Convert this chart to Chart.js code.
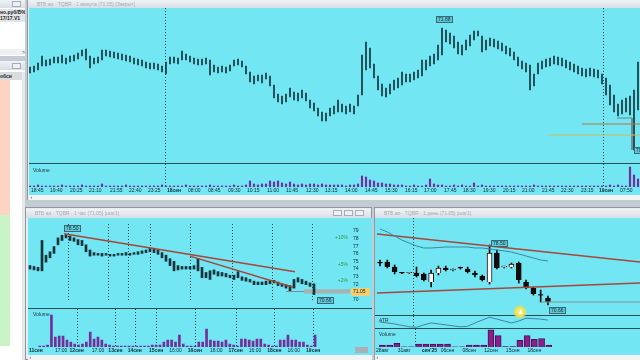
<!DOCTYPE html>
<html>
<head>
<meta charset="utf-8">
<script src="https://cdn.jsdelivr.net/npm/chart.js@4"></script>
<style>
html, body { margin: 0; padding: 0; }
body { width: 640px; height: 360px; overflow: hidden; position: relative; background: #c3cbd3; font-family: "Liberation Sans", sans-serif; }
.a { position: absolute; }
canvas { position: absolute; display: block; background: #72e6f3; }
.tb { position: absolute; background: linear-gradient(#f0f3f6, #d8dee5); color: #a3abb3; font-size: 5px; line-height: 9px; white-space: nowrap; overflow: hidden; }
.sep { position: absolute; height: 1px; background: #2a4d56; }
.lbl { position: absolute; font-size: 5px; color: #1c3038; line-height: 6px; }
.btn { position: absolute; width: 9px; height: 6px; border: 1px solid #a4adb6; box-sizing: border-box; background: #eef1f4; }
</style>
</head>
<body>

<!-- левая панель -->
<div class="a" style="left:0;top:0;width:25px;height:56px;background:#fff"></div>
<div class="tb" style="left:0;top:0;width:25px;height:8px"></div>
<div class="btn" style="left:12px;top:1px"></div>
<div class="a" style="left:0;top:9px;width:25px;height:13px;background:#e3e6e9;font:bold 5px 'Liberation Sans';color:#222;line-height:6px;white-space:nowrap;overflow:hidden">но.руб/Б%<br>17/17.V1</div>
<div class="a" style="left:0;top:49px;width:25px;height:6px;background:#eef0f2;font-size:5px;line-height:6px;text-align:right;color:#444">&gt;</div>
<div class="a" style="left:0;top:61px;width:25px;height:299px;background:#fff"></div>
<div class="tb" style="left:0;top:61px;width:25px;height:9px"></div>
<div class="btn" style="left:12px;top:63px"></div>
<div class="a" style="left:0;top:72px;width:22px;height:8px;background:#d9dcdf;font:bold 5px 'Liberation Sans';color:#222;line-height:8px;overflow:hidden">обси</div>
<div class="a" style="left:0;top:80px;width:10px;height:135px;background:#fdd4c4"></div>
<div class="a" style="left:0;top:215px;width:10px;height:131px;background:#c8f4c8"></div>
<div class="a" style="left:22px;top:72px;width:3px;height:288px;background:#e6e8ea"></div>

<!-- верхнее окно: 1 минута -->
<div class="a" style="left:27px;top:0;width:613px;height:200px;background:#e8ecef;border-left:1px solid #8e98a2"></div>
<div class="tb" style="left:28px;top:0;width:612px;height:8px;line-height:8px;padding-left:9px;box-sizing:border-box">ВТБ ао · TQBR · 1 минута (71.05) [Закрыт]</div>
<canvas id="m1p" width="611" height="155" style="left:29px;top:8px"></canvas>
<div class="sep" style="left:29px;top:163px;width:611px"></div>
<canvas id="m1v" width="611" height="31" style="left:29px;top:164px"></canvas>
<div class="lbl" style="left:33px;top:167px">Volume</div>
<div class="a" style="left:29px;top:195px;width:611px;height:5px;background:#f2f4f5;font-size:5px;line-height:5px;color:#444">&nbsp;‹</div>

<!-- нижнее левое окно: 1 час -->
<div class="a" style="left:25px;top:207px;width:347px;height:153px;background:#e8ecef;border:1px solid #8e98a2;box-sizing:border-box"></div>
<div class="tb" style="left:26px;top:209px;width:345px;height:9px;padding-left:9px;box-sizing:border-box">ВТБ ао · TQBR · 1 час (71.05) [шаг1]</div>
<div class="btn" style="left:333px;top:210px"></div>
<div class="btn" style="left:344px;top:210px"></div>
<div class="btn" style="left:355px;top:210px"></div>
<canvas id="h1p" width="344" height="90" style="left:28px;top:218px"></canvas>
<div class="sep" style="left:28px;top:308px;width:344px"></div>
<canvas id="h1v" width="344" height="46" style="left:28px;top:309px"></canvas>
<div class="lbl" style="left:33px;top:311px">Volume</div>
<div class="a" style="left:355px;top:347px;width:13px;height:6px;background:#a9b1b6"></div>
<div class="a" style="left:28px;top:355px;width:344px;height:5px;background:#f2f4f5;font-size:5px;line-height:5px;color:#444">&nbsp;‹</div>

<!-- нижнее правое окно: 1 день -->
<div class="a" style="left:374px;top:207px;width:266px;height:153px;background:#e8ecef;border-left:1px solid #8e98a2;border-top:1px solid #8e98a2"></div>
<div class="tb" style="left:375px;top:209px;width:265px;height:9px;padding-left:9px;box-sizing:border-box">ВТБ ао · TQBR · 1 день (71.05) [шаг1]</div>
<canvas id="d1p" width="265" height="97" style="left:375px;top:218px"></canvas>
<div class="sep" style="left:375px;top:315px;width:265px"></div>
<canvas id="d1a" width="265" height="12" style="left:375px;top:316px"></canvas>
<div class="sep" style="left:375px;top:328px;width:265px"></div>
<canvas id="d1v" width="265" height="26" style="left:375px;top:329px"></canvas>
<div class="lbl" style="left:379px;top:317px">ATR</div>
<div class="lbl" style="left:379px;top:331px">Volume</div>
<div class="a" style="left:375px;top:355px;width:265px;height:5px;background:#f2f4f5;font-size:5px;line-height:5px;color:#444">&nbsp;‹</div>

<!-- подсветка курсора -->
<div class="a" style="left:513px;top:305px;width:14px;height:14px;border-radius:50%;background:radial-gradient(#fff59a 0%, #f3e04a 45%, rgba(243,224,74,0) 75%)"></div>
<div class="a" style="left:519px;top:309px;width:0;height:0;border-left:2px solid transparent;border-right:2px solid transparent;border-bottom:5px solid #fff"></div>

<script>
// ---- 1 минута: максимумы/минимумы свечей, объём ----
const m1High = [
  71.49, 71.50, 71.53, 71.60, 71.56, 71.57, 71.59, 71.59, 71.61, 71.58,
  71.60, 71.61, 71.63, 71.66, 71.67, 71.60, 71.58, 71.59, 71.66, 71.66,
  71.65, 71.64, 71.63, 71.62, 71.61, 71.60, 71.58, 71.57, 71.56, 71.54,
  71.53, 71.53, 71.52, 71.50, 71.54, 71.59, 71.59, 71.58, 71.65, 71.62,
  71.60, 71.58, 71.57, 71.57, 71.58, 71.56, 71.51, 71.49, 71.50, 71.49,
  71.51, 71.56, 71.57, 71.55, 71.50, 71.44, 71.40, 71.41, 71.41, 71.43,
  71.40, 71.31, 71.22, 71.20, 71.22, 71.28, 71.24, 71.23, 71.26, 71.23,
  71.16, 71.13, 71.08, 71.04, 71.03, 71.08, 71.10, 71.16, 71.12, 71.10,
  71.12, 71.10, 71.21, 71.61, 71.74, 71.68, 71.52, 71.40, 71.32, 71.28,
  71.32, 71.36, 71.38, 71.44, 71.42, 71.42, 71.44, 71.46, 71.56, 71.56,
  71.60, 71.62, 71.71, 71.88, 71.86, 71.83, 71.80, 71.74, 71.71, 71.76,
  71.81, 71.85, 71.85, 71.80, 71.76, 71.78, 71.77, 71.75, 71.73, 71.70,
  71.68, 71.64, 71.59, 71.55, 71.53, 71.51, 71.42, 71.53, 71.55, 71.57,
  71.58, 71.60, 71.59, 71.58, 71.56, 71.54, 71.52, 71.50, 71.48, 71.47,
  71.48, 71.47, 71.46, 71.42, 71.38, 71.31, 71.21, 71.12, 71.16, 71.18,
  71.20, 71.26, 71.54
];
const m1Low = [
  71.43, 71.44, 71.46, 71.50, 71.50, 71.51, 71.53, 71.53, 71.53, 71.52,
  71.54, 71.55, 71.57, 71.60, 71.56, 71.48, 71.52, 71.53, 71.56, 71.60,
  71.59, 71.58, 71.57, 71.56, 71.55, 71.54, 71.52, 71.51, 71.50, 71.48,
  71.47, 71.47, 71.46, 71.44, 71.42, 71.52, 71.53, 71.52, 71.56, 71.56,
  71.54, 71.52, 71.51, 71.51, 71.52, 71.41, 71.44, 71.43, 71.44, 71.43,
  71.45, 71.50, 71.51, 71.49, 71.42, 71.34, 71.32, 71.35, 71.33, 71.37,
  71.30, 71.18, 71.14, 71.12, 71.14, 71.19, 71.16, 71.15, 71.18, 71.15,
  71.08, 71.05, 71.00, 70.95, 70.95, 71.00, 71.02, 71.04, 71.04, 71.02,
  71.04, 71.02, 71.10, 71.21, 71.46, 71.48, 71.38, 71.26, 71.20, 71.19,
  71.22, 71.26, 71.28, 71.31, 71.34, 71.34, 71.36, 71.38, 71.40, 71.46,
  71.50, 71.52, 71.56, 71.61, 71.74, 71.72, 71.68, 71.62, 71.61, 71.66,
  71.70, 71.76, 71.80, 71.64, 71.66, 71.70, 71.69, 71.67, 71.65, 71.62,
  71.60, 71.56, 71.50, 71.47, 71.44, 71.26, 71.30, 71.42, 71.47, 71.49,
  71.50, 71.52, 71.51, 71.50, 71.48, 71.46, 71.44, 71.42, 71.40, 71.39,
  71.40, 71.39, 71.38, 71.32, 71.21, 71.11, 71.04, 71.00, 71.02, 71.04,
  71.01, 70.66, 71.06
];
const m1Vol = [
  1, 1, 2, 1, 1, 1, 1, 1, 2, 1,
  1, 1, 1, 2, 1, 1, 1, 1, 3, 1,
  1, 1, 1, 1, 2, 1, 1, 1, 1, 1,
  1, 1, 1, 2, 1, 1, 1, 1, 1, 2,
  1, 1, 1, 1, 1, 2, 1, 1, 1, 1,
  1, 2, 1, 1, 2, 6, 3, 2, 3, 3,
  6, 5, 6, 4, 3, 5, 3, 2, 3, 2,
  3, 3, 2, 3, 2, 2, 2, 2, 2, 1,
  2, 2, 3, 11, 10, 7, 6, 4, 4, 3,
  3, 2, 2, 2, 1, 1, 2, 1, 1, 2,
  8, 3, 2, 2, 1, 1, 2, 1, 2, 1,
  1, 4, 1, 2, 1, 1, 1, 1, 1, 1,
  1, 1, 1, 1, 1, 1, 2, 1, 1, 1,
  1, 1, 1, 1, 1, 1, 1, 1, 1, 1,
  1, 1, 1, 1, 1, 2, 1, 2, 1, 1,
  20, 12, 8
];
const m1Ticks = ['18:45', '19:40', '20:25', '21:10', '21:55', '22:40', '23:25', '18сен', '08:00', '08:45', '09:30',
  '10:15', '11:00', '11:45', '12:30', '13:15', '14:00', '14:45', '15:30', '16:15', '17:00', '17:45', '18:30',
  '19:30', '20:15', '21:00', '21:45', '22:30', '23:15', '19сен', '07:50'];
const m1TickAt = [0.25, 5, 10, 14.75, 20, 24.75, 29.5, 34.25, 39.5, 44.5, 49.5, 54.25, 59.25, 64, 69, 73.75,
  78.75, 83.75, 88.75, 93.75, 98.5, 103.5, 108.25, 113.25, 118.25, 123, 128, 132.75, 137.75, 142.25, 147.5];
const m1DayAt = [33.75, 143.25];
// уровни, нарисованные на минутном графике: [от свечи, цена]
const m1Levels = [[138, 70.92], [129.5, 70.81]];

// ---- 1 час ----
const h1High = [
  74.45, 74.34, 74.23, 77.75, 75.82, 76.27, 76.95, 78.09, 78.43, 78.50,
  78.32, 78.09, 77.86, 77.75, 77.18, 76.50, 76.16, 76.05, 76.05, 76.05,
  75.93, 75.93, 76.05, 76.05, 76.16, 76.05, 76.16, 76.27, 76.39, 76.50,
  76.73, 76.61, 76.50, 76.16, 75.82, 75.36, 75.02, 74.45, 74.34, 74.34,
  74.34, 74.45, 75.36, 74.23, 73.55, 73.77, 73.89, 73.66, 73.55, 73.43,
  73.20, 73.20, 73.66, 72.98, 72.86, 72.64, 72.41, 72.30, 72.30, 72.41,
  72.52, 72.52, 72.30, 72.07, 71.95, 71.84, 72.64, 72.86, 72.64, 72.41,
  72.18, 72.07
];
const h1Low = [
  74.00, 73.89, 73.77, 73.77, 74.91, 75.48, 76.05, 77.18, 77.75, 78.09,
  77.75, 77.64, 77.18, 77.07, 76.27, 75.70, 75.82, 75.82, 75.70, 75.82,
  75.70, 75.70, 75.82, 75.82, 75.82, 75.82, 75.93, 75.93, 76.05, 76.16,
  76.27, 76.16, 75.93, 75.48, 75.02, 74.45, 73.77, 73.89, 74.00, 74.00,
  74.00, 74.00, 73.77, 72.86, 72.86, 72.64, 73.32, 73.09, 73.09, 72.98,
  72.86, 72.64, 72.86, 72.52, 72.41, 72.30, 71.95, 71.95, 71.95, 71.95,
  72.07, 72.18, 71.84, 71.73, 71.50, 71.16, 71.50, 72.30, 72.07, 71.95,
  71.73, 70.66
];
const h1Vol = [
  1, 1, 2, 32, 10, 11, 11, 7, 5, 3,
  2, 3, 5, 15, 8, 10, 7, 3, 2, 1,
  1, 1, 1, 1, 1, 1, 1, 1, 1, 2,
  2, 2, 5, 7, 7, 5, 12, 3, 1, 1,
  1, 5, 5, 18, 7, 6, 6, 5, 7, 3,
  2, 1, 8, 8, 7, 6, 8, 8, 3, 2,
  1, 1, 7, 7, 12, 7, 7, 5, 5, 2,
  1, 12
];
const h1Ticks = ['11сен', '17:00', '12сен', '17:00', '13сен', '14сен', '15сен', '16:00', '16сен', '16:00',
  '17сен', '16:00', '18сен', '16:00', '19сен'];
const h1TickAt = [-1, 5.5, 9.5, 15, 19.5, 24.5, 30, 35, 40, 45.5, 50.5, 55.5, 60.5, 65.5, 70.5];
// трендовые линии: [свеча, цена] -> [свеча, цена]
const h1TrendA = [[8.5, 78.62], [66.25, 73.66]];
const h1TrendB = [[40, 75.70], [65.75, 71.61]];
const lastPrice = 71.05;
const pctLevels = [10, 5, 2];

// ---- 1 день ----
const d1Open  = [76.15, 76.28, 75.62, 74.84, 74.80, 74.84, 74.71, 73.66, 74.84, 75.49, 75.20, 75.49,
                 75.36, 74.84, 74.45, 73.66, 77.45, 75.60, 75.62, 76.15, 73.66, 72.88, 71.96, 71.57];
const d1Close = [76.10, 75.62, 74.97, 74.80, 74.84, 74.45, 73.92, 74.84, 75.49, 75.23, 75.23, 75.45,
                 74.97, 74.58, 73.92, 77.45, 75.49, 75.62, 76.02, 73.92, 72.88, 72.09, 71.90, 71.05];
const d1High  = [76.54, 76.54, 75.89, 74.90, 74.90, 75.62, 74.84, 75.23, 75.75, 75.75, 75.40, 75.62,
                 75.62, 75.10, 74.58, 78.50, 77.85, 75.75, 76.15, 76.28, 73.92, 73.01, 72.62, 71.83];
const d1Low   = [75.75, 75.49, 74.71, 74.75, 74.75, 74.32, 73.79, 73.01, 74.58, 75.10, 75.10, 75.36,
                 74.84, 74.32, 73.79, 73.40, 75.36, 75.49, 75.49, 73.53, 72.75, 71.96, 71.05, 70.66];
const d1Ma    = [80.59, 80.20, 79.68, 79.15, 78.76, 78.37, 78.11, 78.11, 78.17, 78.24, 78.24, 78.24,
                 78.24, 78.11, 78.11, 77.98, 77.85, 77.72, 77.58, 77.32, 77.06, 76.80, 76.54, 76.41];
const d1Atr   = [1.48, 1.40, 1.32, 1.20, 1.08, 1.04, 1.24, 1.40, 1.32, 1.24, 1.16, 1.08,
                 1.12, 1.40, 1.64, 1.88, 1.72, 1.56, 1.40, 1.56, 1.80, 1.76, 1.72, 1.64];
const d1Vol   = [2, 2, 4, 0.3, 0.3, 3, 3, 3, 3, 3, 0.3, 0.3, 2, 2, 2, 18, 12, 0.5, 0.5, 7, 12, 8, 9, 2];
const d1Ticks = ['28авг', '31авг', "сен'25", '06сен', '08сен', '12сен', '15сен', '18сен'];
const d1TickAt = [0, 3, 6.5, 9, 12, 15, 18, 21];
const d1MonthAt = [4.5];
const d1TrendUp = [[-0.41, 79.94], [35.6, 76.28]];
const d1TrendDn = [[-0.41, 72.23], [35.6, 73.53]];

// ---------------------------------------------------------------
const CANDLE = '#15343b';
const VOL = '#74309a';
const TREND = '#a6463d';

function xAxis(min, max, tickAt, tickText, align, bold) {
    return {
        type: 'linear', min: min, max: max, offset: false, display: !!tickAt,
        grid: {display: false, drawTicks: false},
        border: {display: false},
        afterBuildTicks: function (s) { if (tickAt) s.ticks = tickAt.map(function (v) { return {value: v}; }); },
        ticks: {
            autoSkip: false, maxRotation: 0, minRotation: 0, padding: 1, align: align || 'center', color: '#0e2a31',
            font: function (c) { return {size: 5, weight: bold && bold.test(tickText[c.index]) ? 'bold' : 'normal'}; },
            callback: function (v, i) { return tickText ? tickText[i] : ''; }
        }
    };
}

function pts(arr) { return arr.map(function (p) { return {x: p[0], y: p[1]}; }); }
function line(data, color, width) {
    return {type: 'line', data: data, borderColor: color, borderWidth: width || 1, pointRadius: 0, order: 0};
}
function bars(data, color, thick, order) {
    return {type: 'bar', data: data, backgroundColor: color, barThickness: thick, grouped: false, minBarLength: 1, order: order || 1};
}

function dotted(c, ctx, at) {
    var a = c.chartArea, x = c.scales.x;
    ctx.strokeStyle = '#1f4650';
    ctx.lineWidth = 1;
    ctx.setLineDash([1, 2]);
    at.forEach(function (v) {
        var p = Math.round(x.getPixelForValue(v)) + 0.5;
        ctx.beginPath(); ctx.moveTo(p, a.top); ctx.lineTo(p, a.bottom); ctx.stroke();
    });
    ctx.setLineDash([]);
}

function tag(ctx, text, px, py, fill, color) {
    ctx.font = '5px "Liberation Sans"';
    var w = Math.round(ctx.measureText(text).width) + 4;
    px = Math.round(px); py = Math.round(py);
    ctx.fillStyle = fill; ctx.fillRect(px, py, w, 7);
    ctx.strokeStyle = '#3d6670'; ctx.lineWidth = 1; ctx.strokeRect(px + 0.5, py + 0.5, w - 1, 6);
    ctx.fillStyle = color; ctx.textBaseline = 'middle'; ctx.textAlign = 'left';
    ctx.fillText(text, px + 2, py + 4);
}

function makeChart(id, datasets, scales, before, after, padRight) {
    return new Chart(document.getElementById(id), {
        type: 'bar',
        data: {datasets: datasets},
        options: {
            responsive: false, animation: false, devicePixelRatio: 1, events: [],
            layout: {padding: {left: 0, right: padRight || 0, top: 0, bottom: 0}},
            plugins: {legend: {display: false}, tooltip: {enabled: false}},
            scales: scales
        },
        plugins: [{
            id: 'overlay',
            beforeDatasetsDraw: function (c) { if (before) { c.ctx.save(); before(c, c.ctx); c.ctx.restore(); } },
            afterDatasetsDraw: function (c) { if (after) { c.ctx.save(); after(c, c.ctx); c.ctx.restore(); } }
        }]
    });
}

// ---- верхний график ----
var m1Peak = m1High.indexOf(Math.max.apply(null, m1High));
var m1Bottom = m1Low.indexOf(Math.min.apply(null, m1Low));
makeChart('m1p', [
    bars(m1High.map(function (h, i) { return {x: i, y: [m1Low[i], h]}; }), CANDLE, 1),
    line(pts([[m1Levels[0][0], m1Levels[0][1]], [152.5, m1Levels[0][1]]]), '#b8743a'),
    line(pts([[m1Levels[1][0], m1Levels[1][1]], [152.5, m1Levels[1][1]]]), '#cdbb5c'),
    line(pts([[146.75, 70.98], [m1Bottom - 0.5, 70.98], [m1Bottom - 0.5, m1Low[m1Bottom]]]), '#6f8388')
], {
    x: xAxis(-0.25, 152.5),
    y: {display: false, min: 70.53, max: 72.08}
}, function (c, ctx) { dotted(c, ctx, m1DayAt); }, function (c, ctx) {
    var x = c.scales.x, y = c.scales.y;
    tag(ctx, m1High[m1Peak].toFixed(2), x.getPixelForValue(m1Peak) - 6, y.getPixelForValue(m1High[m1Peak]) - 12, '#5fc9d7', '#12323a');
    tag(ctx, m1Low[m1Bottom].toFixed(2), x.getPixelForValue(m1Bottom), y.getPixelForValue(m1Low[m1Bottom]) - 3, '#5fc9d7', '#12323a');
});
makeChart('m1v', [
    bars(m1Vol.map(function (v, i) { return {x: i, y: v}; }), VOL, 1.5)
], {
    x: xAxis(-0.25, 152.5, m1TickAt, m1Ticks, 'start', /сен/),
    y: {display: false, min: 0, max: 23}
}, function (c, ctx) { dotted(c, ctx, m1DayAt); });

// ---- часовой график ----
var h1Days = h1TickAt.filter(function (v, i) { return /сен/.test(h1Ticks[i]) && v > 0; });
var h1Peak = h1High.indexOf(Math.max.apply(null, h1High));
var h1Last = h1High.length - 1;
makeChart('h1p', [
    bars(h1High.map(function (h, i) { return {x: i, y: [h1Low[i], h]}; }), CANDLE, 2),
    line(pts(h1TrendA), TREND, 1.5),
    line(pts(h1TrendB), TREND, 1.5),
    line(pts([[64, lastPrice], [68.5, lastPrice]]), '#7d8b8d')
], {
    x: xAxis(-0.5, 80),
    y: {
        position: 'right', min: 69.68, max: 79.91,
        grid: {display: false, drawTicks: false}, border: {display: false},
        afterFit: function (s) { s.width = 22; },
        ticks: {stepSize: 1, includeBounds: false, padding: 3, color: '#0e2a31', font: {size: 5},
            callback: function (v) { return v === 71 ? '' : v; }}
    }
}, function (c, ctx) {
    dotted(c, ctx, h1Days);
    var x = c.scales.x, y = c.scales.y;
    var x0 = x.getPixelForValue(68.5), y0 = y.getPixelForValue(lastPrice + 0.3), y1 = y.getPixelForValue(lastPrice - 0.25);
    ctx.fillStyle = '#a4b2b1';
    ctx.fillRect(x0, y0, c.chartArea.right - x0, y1 - y0);
}, function (c, ctx) {
    var x = c.scales.x, y = c.scales.y, a = c.chartArea;
    tag(ctx, h1High[h1Peak].toFixed(2), x.getPixelForValue(h1Peak) - 2, y.getPixelForValue(h1High[h1Peak]) - 10, '#5fc9d7', '#12323a');
    tag(ctx, h1Low[h1Last].toFixed(2), x.getPixelForValue(h1Last) + 3, y.getPixelForValue(h1Low[h1Last]) + 2, '#5fc9d7', '#12323a');
    // подпись текущей цены на шкале
    var py = Math.round(y.getPixelForValue(lastPrice));
    ctx.fillStyle = '#f4cf72'; ctx.fillRect(a.right + 1, py - 4, 19, 8);
    ctx.fillStyle = '#1a1a1a'; ctx.font = '5px "Liberation Sans"'; ctx.textBaseline = 'middle'; ctx.textAlign = 'left';
    ctx.fillText(lastPrice.toFixed(2), a.right + 3, py);
    // процентные уровни
    ctx.fillStyle = '#2e9b3a'; ctx.textAlign = 'right';
    pctLevels.forEach(function (p) {
        ctx.fillText('+' + p + '%', a.right - 2, y.getPixelForValue(lastPrice * (1 + p / 100)));
    });
});
makeChart('h1v', [
    bars(h1Vol.map(function (v, i) { return {x: i, y: v}; }), VOL, 2)
], {
    x: xAxis(-0.5, 80, h1TickAt, h1Ticks, 'center', /сен/),
    y: {display: false, min: 0, max: 38}
}, function (c, ctx) { dotted(c, ctx, h1Days); }, null, 22);

// ---- дневной график ----
var d1Peak = d1High.indexOf(Math.max.apply(null, d1High));
var d1Last = d1High.length - 1;
makeChart('d1p', [
    bars(d1High.map(function (h, i) { return {x: i, y: [d1Low[i], h]}; }), '#0c0c0c', 1, 2),
    {
        type: 'bar', order: 1, grouped: false, barThickness: 5, minBarLength: 1,
        data: d1Open.map(function (o, i) { return {x: i, y: [o, d1Close[i]]}; }),
        backgroundColor: d1Open.map(function (o, i) { return d1Close[i] > o ? '#ffffff' : '#0c0c0c'; }),
        borderColor: '#0c0c0c', borderWidth: 1
    },
    line(d1Ma.map(function (v, i) { return {x: i, y: v}; }), '#3f84a2', 1),
    line(pts(d1TrendUp), TREND, 1.5),
    line(pts(d1TrendDn), TREND, 1.5),
    line(pts([[d1Last - 1, lastPrice], [35.6, lastPrice]]), '#7f9296')
], {
    x: xAxis(-0.685, 35.6),
    y: {display: false, min: 69.35, max: 82.03}
}, function (c, ctx) { dotted(c, ctx, d1MonthAt); }, function (c, ctx) {
    var x = c.scales.x, y = c.scales.y;
    tag(ctx, d1High[d1Peak].toFixed(2), x.getPixelForValue(d1Peak) + 1, y.getPixelForValue(d1High[d1Peak]) - 5, '#5fc9d7', '#12323a');
    tag(ctx, d1Low[d1Last].toFixed(2), x.getPixelForValue(d1Last) + 1, y.getPixelForValue(d1Low[d1Last]) + 2, '#5fc9d7', '#12323a');
});
makeChart('d1a', [
    line(d1Atr.map(function (v, i) { return {x: i, y: v}; }), '#3f84a2', 1)
], {
    x: xAxis(-0.685, 35.6),
    y: {display: false, min: 0.98, max: 1.98}
}, function (c, ctx) { dotted(c, ctx, d1MonthAt); });
makeChart('d1v', [
    {type: 'bar', data: d1Vol.map(function (v, i) { return {x: i, y: v}; }), backgroundColor: '#8a1f8c',
     borderColor: '#4a1050', borderWidth: 1, barThickness: 6, grouped: false}
], {
    x: xAxis(-0.685, 35.6, d1TickAt, d1Ticks, 'center', /'25/),
    y: {display: false, min: 0, max: 19}
}, function (c, ctx) { dotted(c, ctx, d1MonthAt); });
</script>
</body>
</html>
